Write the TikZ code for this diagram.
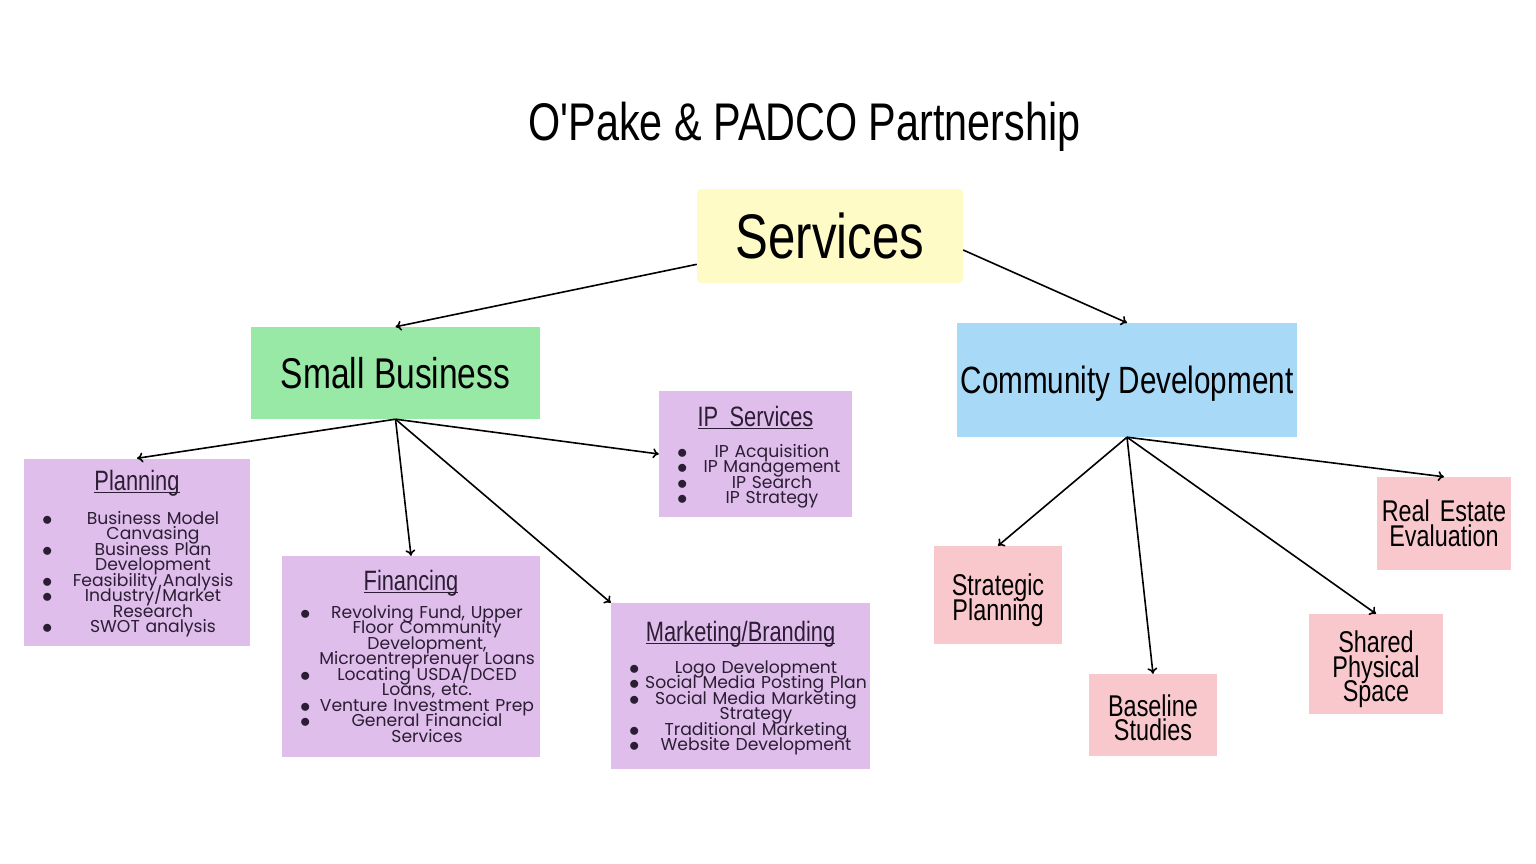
\documentclass[tikz,border=0pt]{standalone}
\usepackage{fontspec}
\setmainfont{Poppins}
\newfontfamily\hand[FakeStretch=0.78]{Liberation Sans}
\usetikzlibrary{arrows.meta}

\definecolor{srvyellow}{HTML}{FFFBC6}
\definecolor{sbgreen}{HTML}{98E9A6}
\definecolor{cdblue}{HTML}{A8DAF8}
\definecolor{ippurple}{HTML}{DFBEEB}
\definecolor{cdpink}{HTML}{F8C8CC}
\definecolor{listink}{HTML}{2B1D33}

% one line of a bullet list, text centred at \tx from the box edge
\newcommand\bdot{\raisebox{-1pt}{\fontsize{20}{20}\selectfont$\bullet$}}
\newcommand\bline[1]{\hbox to\hsize{\rlap{\hspace{18pt}\bdot}\hspace{\tx}\makebox[0pt]{#1}\hfil}}
\newcommand\nline[1]{\hbox to\hsize{\hspace{\tx}\makebox[0pt]{#1}\hfil}}
\newcommand\boxhead[2][0pt]{\leavevmode{\hand\fontsize{28}{30}\selectfont\setbox0\hbox{#2}%
  \rule{0pt}{\dimexpr\ht0+#1\relax}\rlap{\rule[-2pt]{\wd0}{1.1pt}}\box0}\par}
\newcommand\tightlines{\lineskiplimit=-100pt\relax}

\begin{document}
\begin{tikzpicture}[x=1pt,y=-1pt,
    handbox/.style={inner sep=0pt, font=\hand, text=black, text depth=0pt},
    listbox/.style={fill=ippurple, inner sep=0pt, align=center, text=listink,
      font=\fontsize{17.2}{15.5}\selectfont\tightlines},
    pinkbox/.style={fill=cdpink, inner sep=0pt, align=center, text=black,
      font=\hand\fontsize{30}{24.5}\selectfont\tightlines},
    arr/.style={-{To[length=6pt,width=10pt]}, line width=1.6pt}]
  \useasboundingbox[fill=white] (0,0) rectangle (1536,864);

  \node[anchor=base, font=\hand\fontsize{53}{56}\selectfont] (title) at (804.5,140) {O'Pake \& PADCO Partnership};

  \node[handbox, fill=srvyellow, rounded corners=4pt, minimum width=266pt, minimum height=94pt,
    font=\hand\fontsize{63}{66}\selectfont] (srv) at (830,236) {Services};
  \node[handbox, fill=sbgreen, minimum width=289pt, minimum height=92pt,
    font=\hand\fontsize{43}{46}\selectfont] (sb) at (395.5,373) {Small Business};
  \node[handbox, fill=cdblue, minimum width=340pt, minimum height=114pt,
    font=\hand\fontsize{38}{40}\selectfont] (cd) at (1127,380) {Community Development};

  \node[listbox, text width=226pt, minimum height=187pt] (plan) at (137,552) {\def\tx{129pt}%
    \boxhead[4pt]{Planning}\vspace{18pt}
    \bline{Business Model}
    \nline{Canvasing}
    \bline{Business Plan}
    \nline{Development}
    \bline{Feasibility Analysis}
    \bline{Industry/Market}
    \nline{Research}
    \bline{SWOT analysis}};
  \node[listbox, text width=258pt, minimum height=201pt] (fin) at (411,656.5) {\def\tx{145pt}%
    \boxhead{Financing}\vspace{12pt}
    \bline{Revolving Fund, Upper}
    \nline{Floor Community}
    \nline{Development,}
    \nline{Microentreprenuer Loans}
    \bline{Locating USDA/DCED}
    \nline{Loans, etc.}
    \bline{Venture Investment Prep}
    \bline{General Financial}
    \nline{Services}};
  \node[listbox, text width=193pt, minimum height=126pt] (ip) at (755.5,454) {\def\tx{113pt}%
    \boxhead[7pt]{IP\ \ Services}\vspace{15pt}
    \bline{IP Acquisition}
    \bline{IP Management}
    \bline{IP Search}
    \bline{IP Strategy}};
  \node[listbox, text width=259pt, minimum height=166pt] (mkt) at (740.5,686) {\def\tx{145pt}%
    \boxhead[5pt]{Marketing/Branding}\vspace{16pt}
    \bline{Logo Development}
    \bline{Social Media Posting Plan}
    \bline{Social Media Marketing}
    \nline{Strategy}
    \bline{Traditional Marketing}
    \bline{Website Development}};

  \node[pinkbox, text width=128pt, minimum height=98pt] (strat) at (998,595) {\rule{0pt}{32pt}Strategic\\Planning};
  \node[pinkbox, text width=128pt, minimum height=82pt] (base) at (1153,715) {\rule{0pt}{27pt}Baseline\\Studies};
  \node[pinkbox, text width=134pt, minimum height=100pt] (shared) at (1376,664) {\rule{0pt}{33pt}Shared\\Physical\\Space};
  \node[pinkbox, text width=134pt, minimum height=93pt] (real) at (1444,523.5) {Real Estate\\Evaluation};

  \draw[arr] (srv.192) -- (sb.north);
  \draw[arr] (srv.354) -- (cd.north);

  \draw[arr] (sb.south) -- (plan.north);
  \draw[arr] (sb.south) -- (fin.north);
  \draw[arr] (sb.south) -- (mkt.north west);
  \draw[arr] (sb.south) -- (ip.west);

  \draw[arr] (cd.south) -- (strat.north);
  \draw[arr] (cd.south) -- (base.north);
  \draw[arr] (cd.south) -- (shared.north);
  \draw[arr] (cd.south) -- (real.north);
\end{tikzpicture}
\end{document}
